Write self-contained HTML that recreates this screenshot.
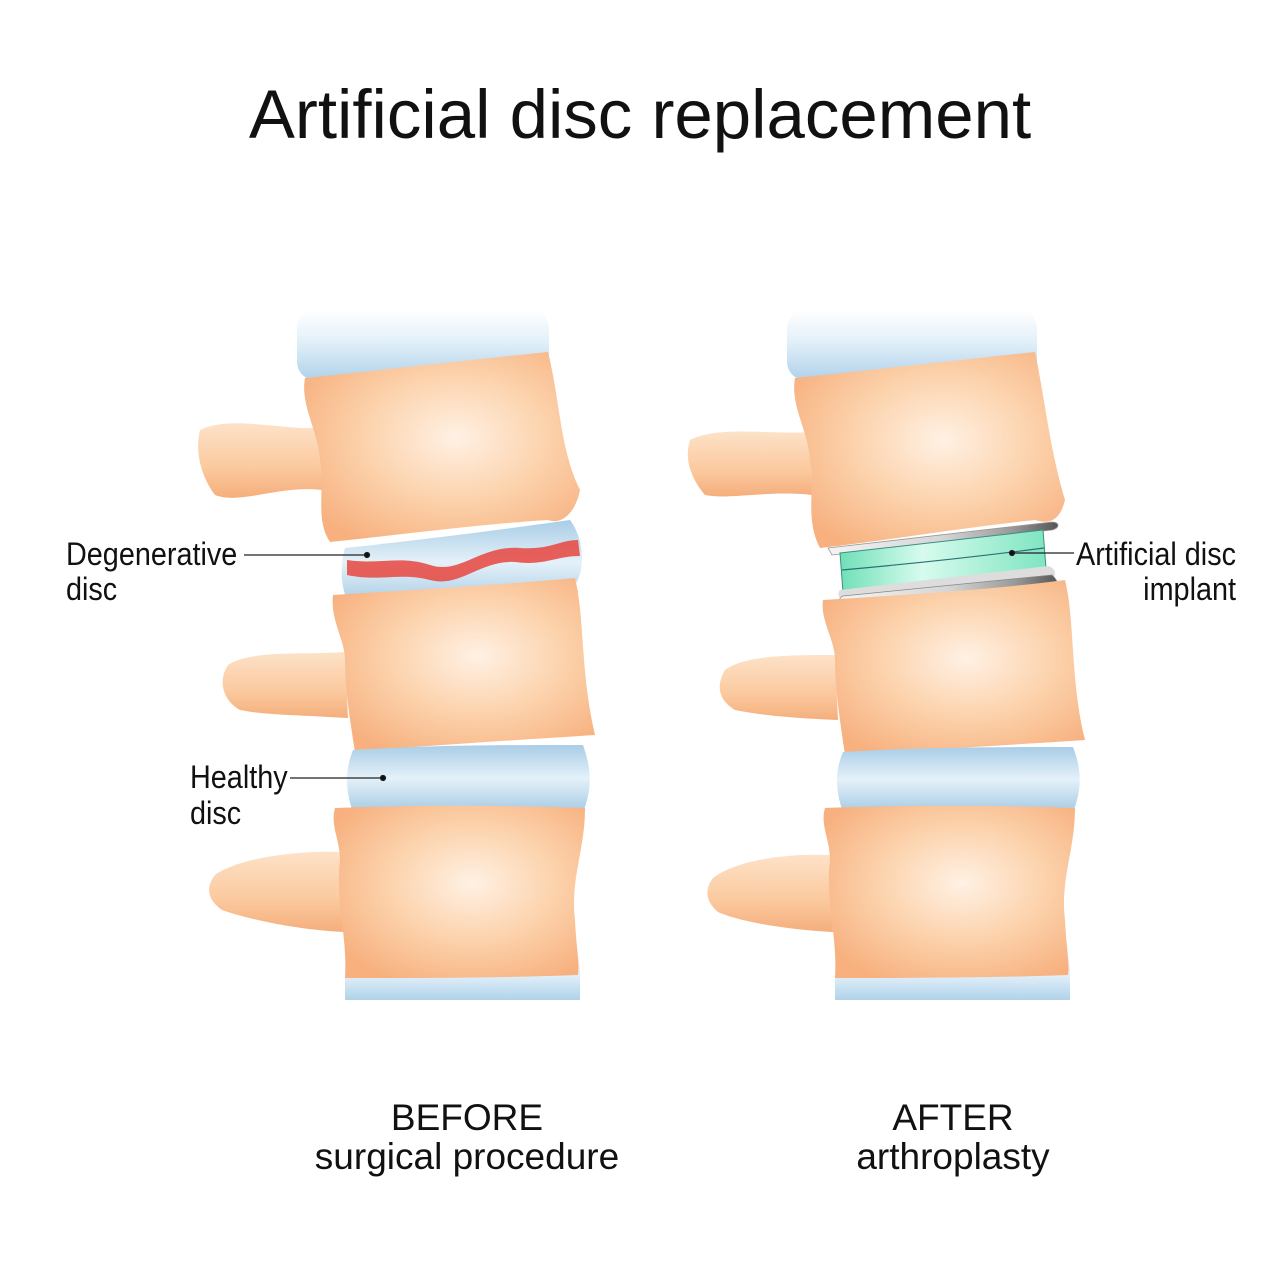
<!DOCTYPE html>
<html><head><style>
html,body{margin:0;padding:0;background:#fff;width:1280px;height:1280px;overflow:hidden}
svg text{font-family:"Liberation Sans",sans-serif}
</style></head><body>
<svg width="1280" height="1280" viewBox="0 0 1280 1280">
<defs>
<radialGradient id="bone" cx="0.55" cy="0.45" r="0.65">
<stop offset="0" stop-color="#fff1e4"/><stop offset="0.5" stop-color="#fcd3ad"/><stop offset="1" stop-color="#f7b07e"/>
</radialGradient>
<linearGradient id="proc" x1="0" y1="0" x2="0" y2="1">
<stop offset="0" stop-color="#fde2c8"/><stop offset="0.6" stop-color="#fbc99e"/><stop offset="1" stop-color="#f5ae7c"/>
</linearGradient>
<linearGradient id="disc" x1="0" y1="0" x2="0" y2="1">
<stop offset="0" stop-color="#a9cde6"/><stop offset="0.5" stop-color="#e4f1f9"/><stop offset="1" stop-color="#a7cbe4"/>
</linearGradient>
<linearGradient id="discT" x1="0" y1="0" x2="0" y2="1">
<stop offset="0" stop-color="#ffffff"/><stop offset="0.4" stop-color="#e6f2fa"/><stop offset="1" stop-color="#b0d2ea"/>
</linearGradient>
<linearGradient id="green" x1="0" y1="0" x2="1" y2="0">
<stop offset="0" stop-color="#6fe0b8"/><stop offset="0.4" stop-color="#d7fbee"/><stop offset="1" stop-color="#7fe5c1"/>
</linearGradient>
<linearGradient id="metal" x1="0" y1="0" x2="1" y2="0">
<stop offset="0" stop-color="#f4f4f4"/><stop offset="0.5" stop-color="#d5d5d5"/><stop offset="0.8" stop-color="#9a9a9a"/><stop offset="1" stop-color="#555"/>
</linearGradient>
</defs>

<text x="640" y="138" font-size="69" text-anchor="middle" fill="#111">Artificial disc replacement</text>

<g>
<rect x="297" y="310" width="252" height="70" rx="18" fill="url(#discT)"/>
<rect x="345" y="955" width="235" height="45" fill="url(#discT)"/>
<path d="M200,430 C230,415 280,430 320,428 L322,490 C280,485 240,505 215,495 C200,475 195,450 200,430Z" fill="url(#proc)"/>
<path d="M305,378 C380,370 470,360 548,352 C560,400 560,450 580,490 C575,515 560,525 548,520 C470,525 400,535 330,542 C315,520 325,490 320,460 C318,430 300,405 305,378Z" fill="url(#bone)"/>
<path d="M345,548 C420,540 500,530 570,520 C585,540 585,570 575,585 C500,590 420,600 350,605 C340,590 340,565 345,548Z" fill="url(#disc)"/>
<path d="M347,560 C380,565 400,555 430,565 C460,575 480,545 520,548 C550,550 560,540 578,540 L580,556 C555,556 545,566 515,562 C480,560 460,588 430,580 C400,572 380,582 347,575Z" fill="#e8453e" opacity="0.85"/>
<path d="M350,600 C430,595 510,588 575,582 L578,592 C510,598 430,606 352,610Z" fill="#e35a3c" opacity="0.7"/>
<path d="M228,665 C250,650 300,655 345,652 L348,718 C300,715 265,715 240,710 C222,700 218,680 228,665Z" fill="url(#proc)"/>
<path d="M333,595 C410,590 500,585 575,578 C585,620 580,670 595,735 C520,740 430,745 355,752 C350,720 345,690 345,660 C345,640 330,620 333,595Z" fill="url(#bone)"/>
<path d="M353,750 C430,745 510,745 583,745 C592,770 592,790 583,812 C510,810 430,810 353,812 C345,790 345,770 353,750Z" fill="url(#disc)"/>
<path d="M215,875 C235,860 290,850 340,852 L343,932 C300,930 250,920 222,910 C208,900 205,888 215,875Z" fill="url(#proc)"/>
<path d="M335,808 C420,805 500,805 585,808 C585,850 570,880 575,920 C576,945 580,965 578,975 C500,978 420,978 345,978 C348,940 335,900 340,860 C340,840 330,825 335,808Z" fill="url(#bone)"/>
</g>

<g>
<rect x="787" y="310" width="250" height="70" rx="18" fill="url(#discT)"/>
<rect x="835" y="955" width="235" height="45" fill="url(#discT)"/>
<path d="M690,440 C720,425 770,435 810,432 L812,495 C770,490 730,500 705,495 C688,475 685,455 690,440Z" fill="url(#proc)"/>
<path d="M795,378 C870,370 960,360 1035,352 C1045,400 1050,450 1065,500 C1060,520 1050,525 1035,520 C960,528 890,540 820,548 C805,520 815,490 810,460 C808,430 790,405 795,378Z" fill="url(#bone)"/>
<path d="M828,548 L1052,522 C1060,522 1060,528 1052,530 L832,555Z" fill="url(#metal)" stroke="#999" stroke-width="0.8"/>
<path d="M840,553 L1043,530 L1046,568 L843,592Z" fill="url(#green)" stroke="#3a8f82" stroke-width="1"/>
<path d="M842,570 C920,563 990,555 1044,548" fill="none" stroke="#2e6f75" stroke-width="1.2"/>
<path d="M840,590 C835,596 842,602 850,600 L1050,580 C1058,576 1056,568 1048,566 Z" fill="#ddd"/>
<path d="M843,596 L1052,575 C1060,582 1060,592 1054,598 L848,606 C838,604 838,598 843,596Z" fill="url(#metal)" stroke="#888" stroke-width="0.8"/>
<path d="M725,670 C745,655 790,655 835,655 L838,720 C790,718 760,715 735,710 C718,700 716,685 725,670Z" fill="url(#proc)"/>
<path d="M823,600 C900,595 990,590 1065,580 C1075,620 1070,680 1085,740 C1010,745 920,750 845,755 C840,720 835,690 835,660 C835,640 820,620 823,600Z" fill="url(#bone)"/>
<path d="M843,752 C920,747 1000,747 1073,747 C1082,770 1082,790 1073,812 C1000,810 920,810 843,812 C835,790 835,770 843,752Z" fill="url(#disc)"/>
<path d="M713,878 C733,862 780,853 830,855 L833,932 C790,930 740,922 718,912 C706,902 704,890 713,878Z" fill="url(#proc)"/>
<path d="M825,808 C910,805 990,805 1075,808 C1075,850 1060,880 1065,920 C1066,945 1070,965 1068,975 C990,978 910,978 835,978 C838,940 825,900 830,860 C830,840 820,825 825,808Z" fill="url(#bone)"/>
</g>

<g stroke="#222" stroke-width="1.2" fill="#111">
<line x1="244" y1="555" x2="367" y2="555"/><circle cx="367" cy="555" r="2.5"/>
<line x1="290" y1="778" x2="383" y2="778"/><circle cx="383" cy="778" r="2.5"/>
<line x1="1012" y1="553" x2="1074" y2="553"/><circle cx="1012" cy="553" r="2.5"/>
</g>
<g font-size="32" fill="#111">
<text transform="translate(66,565) scale(0.9,1)">Degenerative</text>
<text transform="translate(66,600) scale(0.9,1)">disc</text>
<text transform="translate(190,788) scale(0.9,1)">Healthy</text>
<text transform="translate(190,824) scale(0.9,1)">disc</text>
<text transform="translate(1236,565) scale(0.9,1)" text-anchor="end">Artificial disc</text>
<text transform="translate(1236,600) scale(0.9,1)" text-anchor="end">implant</text>
</g>
<g font-size="37" fill="#111" text-anchor="middle">
<text x="467" y="1130">BEFORE</text>
<text x="467" y="1169">surgical procedure</text>
<text x="953" y="1130">AFTER</text>
<text x="953" y="1169">arthroplasty</text>
</g>
</svg>
</body></html>
